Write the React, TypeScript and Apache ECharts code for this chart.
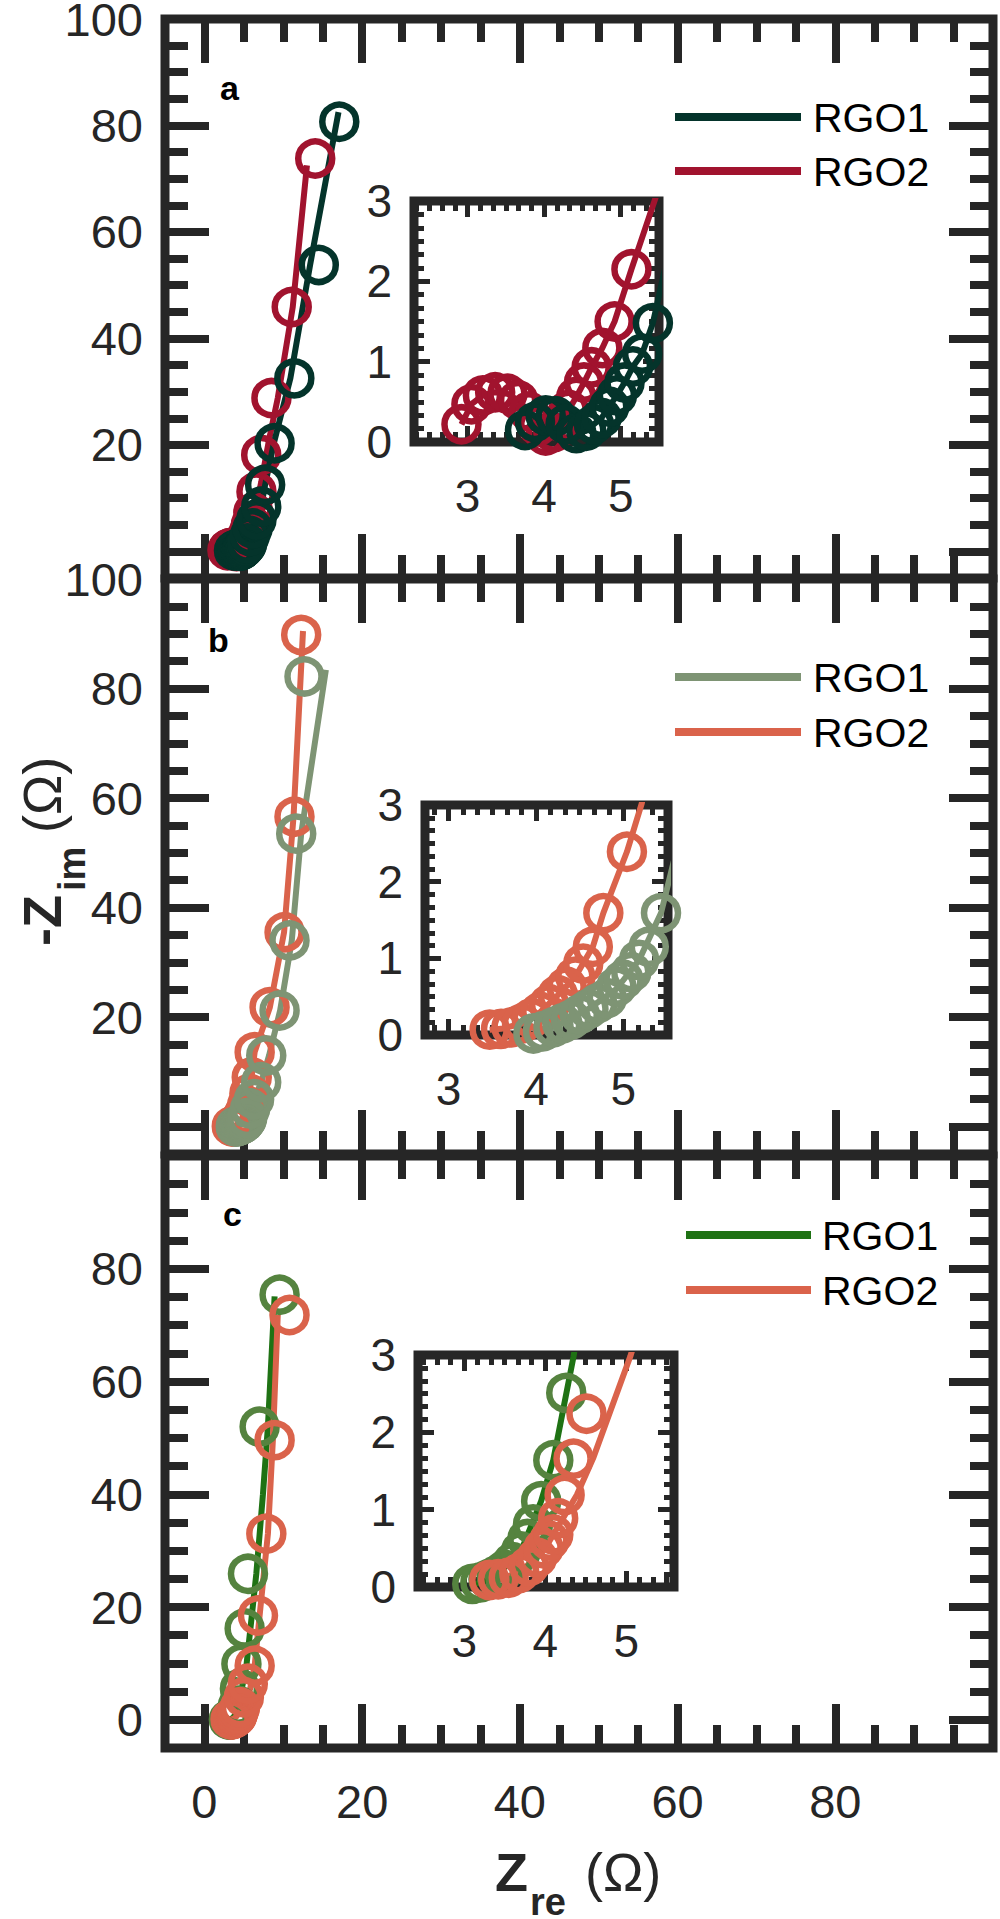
import React, { useEffect, useRef } from "react";
import * as echarts from "echarts";

// ---------------- data ----------------
const panelNames = ["a", "b", "c"];
const seriesNames = ["RGO1", "RGO2"];
const mainXTickLabels = [0, 20, 40, 60, 80];
const mainYTickLabelsA = [20, 40, 60, 80, 100];
const mainYTickLabelsB = [20, 40, 60, 80, 100];
const mainYTickLabelsC = [0, 20, 40, 60, 80];
const insetXTickLabels = [3, 4, 5];
const insetYTickLabels = [0, 1, 2, 3];

// panel a
const aRGO1Points = [
  [3.75, 0.15], [3.88, 0.25], [4.02, 0.33], [4.15, 0.32], [4.28, 0.22], [4.42, 0.11],
  [4.55, 0.14], [4.65, 0.22], [4.75, 0.3], [4.85, 0.44], [4.95, 0.58], [5.05, 0.74],
  [5.16, 0.94], [5.28, 1.1], [5.42, 1.48], [5.75, 2.9], [6.1, 4.3], [6.6, 6.0],
  [7.2, 8.4], [7.7, 12.5], [8.9, 20.3], [11.4, 32.5], [14.5, 53.8], [17.1, 80.7],
];
const aRGO1Curve = [
  [3.75, 0.15], [3.88, 0.25], [4.02, 0.33], [4.15, 0.32], [4.28, 0.22], [4.42, 0.11],
  [4.55, 0.14], [4.65, 0.22], [4.75, 0.3], [4.85, 0.44], [4.95, 0.58], [5.05, 0.74],
  [5.16, 0.94], [5.28, 1.1], [5.42, 1.48], [5.75, 2.9], [6.1, 4.3], [6.6, 6.0],
  [7.2, 8.4], [7.7, 12.5], [8.8, 20.3], [10.9, 32.5], [13.4, 53.8], [17.0, 82.5],
];
const aRGO2Points = [
  [2.92, 0.22], [3.05, 0.47], [3.2, 0.58], [3.36, 0.62], [3.52, 0.6], [3.66, 0.52],
  [3.8, 0.38], [3.92, 0.2], [4.02, 0.08], [4.12, 0.12], [4.22, 0.25], [4.32, 0.4],
  [4.42, 0.56], [4.52, 0.74], [4.62, 0.93], [4.76, 1.17], [4.92, 1.5], [5.14, 2.15],
  [5.6, 3.45], [5.9, 5.0], [6.2, 7.3], [6.6, 11.2], [7.2, 18.1], [8.5, 28.8],
  [11.07, 45.9], [14.05, 73.8],
];
const aRGO2Curve = [
  [2.92, 0.22], [3.05, 0.47], [3.2, 0.58], [3.36, 0.62], [3.52, 0.6], [3.66, 0.52],
  [3.8, 0.38], [3.92, 0.2], [4.02, 0.08], [4.12, 0.12], [4.22, 0.25], [4.32, 0.4],
  [4.42, 0.56], [4.52, 0.74], [4.62, 0.93], [4.76, 1.17], [4.92, 1.5], [5.14, 2.15],
  [5.6, 3.45], [6.0, 5.2], [6.5, 8.0], [7.2, 13.0], [8.2, 21.0], [9.3, 28.8],
  [11.2, 45.9], [13.0, 72.5],
];

// panel b
const bRGO1Points = [
  [3.97, 0.02], [4.08, 0.05], [4.2, 0.1], [4.3, 0.15], [4.4, 0.2], [4.5, 0.27],
  [4.6, 0.34], [4.7, 0.41], [4.81, 0.48], [4.92, 0.63], [5.0, 0.72], [5.09, 0.82],
  [5.18, 0.98], [5.29, 1.15], [5.43, 1.59], [5.8, 3.3], [6.3, 5.0], [7.2, 8.1],
  [7.84, 13.0], [9.53, 21.2], [10.79, 34.0], [11.64, 53.5], [12.69, 82.2],
];
const bRGO1Curve = [
  [3.97, 0.02], [4.3, 0.15], [4.6, 0.34], [4.92, 0.6], [5.18, 0.98], [5.43, 1.59],
  [5.8, 3.3], [6.3, 5.0], [7.2, 8.1], [8.2, 13.0], [9.6, 21.2], [11.08, 34.0],
  [12.27, 53.5], [15.4, 83.4],
];
const bRGO2Points = [
  [3.47, 0.07], [3.6, 0.08], [3.72, 0.1], [3.84, 0.15], [3.95, 0.22], [4.05, 0.3],
  [4.15, 0.4], [4.25, 0.52], [4.35, 0.63], [4.45, 0.76], [4.54, 0.93], [4.65, 1.15],
  [4.77, 1.59], [5.04, 2.39], [5.4, 3.8], [5.7, 6.0], [6.0, 9.0], [6.37, 13.6],
  [8.26, 21.8], [10.16, 35.5], [11.42, 56.6], [12.27, 89.8],
];
const bRGO2Curve = [
  [3.47, 0.07], [3.6, 0.08], [3.84, 0.15], [4.05, 0.3], [4.25, 0.52], [4.45, 0.76],
  [4.65, 1.15], [4.77, 1.59], [5.04, 2.39], [5.21, 3.02], [5.7, 6.0], [6.37, 13.6],
  [8.3, 21.8], [10.1, 35.5], [11.3, 56.6], [12.5, 90.5],
];

// panel c
const cRGO1Points = [
  [3.1, 0.04], [3.2, 0.06], [3.3, 0.1], [3.4, 0.15], [3.5, 0.22], [3.6, 0.32],
  [3.7, 0.46], [3.78, 0.62], [3.85, 0.81], [3.95, 1.11], [4.1, 1.64], [4.26, 2.51],
  [4.5, 5.5], [4.69, 9.9], [5.1, 16.2], [5.52, 25.9], [7.0, 52.0], [9.53, 75.4],
];
const cRGO1Curve = [
  [3.1, 0.02], [3.4, 0.15], [3.7, 0.46], [3.95, 1.11], [4.1, 1.64], [4.35, 2.98],
  [5.3, 9.3], [6.58, 25.9], [7.42, 40.0], [8.05, 52.0], [8.9, 75.1],
];
const cRGO2Points = [
  [3.31, 0.09], [3.42, 0.1], [3.55, 0.12], [3.68, 0.18], [3.8, 0.27], [3.9, 0.38],
  [3.98, 0.5], [4.05, 0.6], [4.1, 0.68], [4.16, 0.89], [4.24, 1.19], [4.35, 1.66],
  [4.51, 2.24], [5.0, 4.0], [5.5, 6.4], [6.37, 9.6], [6.79, 18.5], [7.85, 33.0],
  [8.9, 49.6], [10.79, 71.8],
];
const cRGO2Curve = [
  [3.31, 0.05], [3.7, 0.2], [4.0, 0.5], [4.39, 1.19], [4.59, 1.66], [5.05, 2.98],
  [5.8, 5.5], [6.37, 9.6], [7.0, 18.5], [8.05, 33.0], [8.68, 49.6], [9.3, 71.8],
];

const mainXRange = [-5, 100];
const mainYRange = [-5, 100];
const insetYRange = [0, 3];
const insetXRangeA = [2.3, 5.5];
const insetXRangeB = [2.73, 5.51];
const insetXRangeC = [2.43, 5.59];

// ---------------- styles / layout ----------------
const FRAME = "#262626";
const FONT = "'Liberation Sans', Arial, Helvetica, sans-serif";

const markerColors = [
  ["#04342B", "#A1132E"],
  ["#7E9474", "#DA634B"],
  ["#55833F", "#DA634B"],
];
const lineColors = [
  ["#04342B", "#A1132E"],
  ["#7E9474", "#DA634B"],
  ["#1F7214", "#DA634B"],
];

const mainGrids = [
  { left: 165, top: 19, width: 828, height: 559 },
  { left: 165, top: 579, width: 828, height: 575 },
  { left: 165, top: 1156, width: 828, height: 592 },
];
const insetGrids = [
  { left: 414, top: 201, width: 245, height: 241 },
  { left: 425, top: 805, width: 243, height: 230 },
  { left: 418, top: 1355, width: 256, height: 232 },
];
const legendLayout = [
  { x0: 675, x1: 801, tx: 813, ys: [117, 171] },
  { x0: 675, x1: 801, tx: 813, ys: [677, 732] },
  { x0: 686, x1: 811, tx: 822, ys: [1235, 1290] },
];
const letterLayout = [
  { x: 220, y: 88 },
  { x: 208, y: 640 },
  { x: 223, y: 1214 },
];

function textStyle(text: string, font: string, fill: string, align = "left") {
  return {
    text,
    font,
    fill,
    align,
    verticalAlign: "middle",
    textAlign: align,
    textVerticalAlign: "middle",
  };
}

function sixths(range: number[]) {
  const out: number[] = [];
  for (let k = Math.ceil(range[0] * 6 - 1e-9); k <= Math.floor(range[1] * 6 + 1e-9); k++) {
    out.push(k / 6);
  }
  return out;
}

function mainXAxes(gi: number, showLabels: boolean) {
  const base: any = {
    gridIndex: gi,
    type: "value",
    min: mainXRange[0],
    max: mainXRange[1],
    axisLine: { show: false, onZero: false },
    splitLine: { show: false },
  };
  const major = {
    show: true,
    inside: true,
    length: 44,
    lineStyle: { color: FRAME, width: 8 },
  };
  const minor = { ...major, length: 23 };
  return [
    {
      ...base,
      position: "bottom",
      splitNumber: 5,
      axisTick: major,
      axisLabel: {
        show: showLabels,
        margin: 30,
        fontSize: 47,
        fontFamily: FONT,
        color: FRAME,
        formatter: (v: number) => (mainXTickLabels.includes(v) ? String(v) : ""),
      },
    },
    { ...base, position: "top", splitNumber: 5, axisTick: major, axisLabel: { show: false } },
    { ...base, position: "bottom", interval: 5, axisTick: minor, axisLabel: { show: false } },
    { ...base, position: "top", interval: 5, axisTick: minor, axisLabel: { show: false } },
  ];
}

function mainYAxes(gi: number, labels: number[]) {
  const base: any = {
    gridIndex: gi,
    type: "value",
    min: mainYRange[0],
    max: mainYRange[1],
    axisLine: { show: false, onZero: false },
    splitLine: { show: false },
  };
  const major = {
    show: true,
    inside: true,
    length: 44,
    lineStyle: { color: FRAME, width: 8 },
  };
  const minor = { ...major, length: 23 };
  return [
    {
      ...base,
      position: "left",
      splitNumber: 5,
      axisTick: major,
      axisLabel: {
        show: true,
        margin: 22,
        fontSize: 47,
        fontFamily: FONT,
        color: FRAME,
        formatter: (v: number) => (labels.includes(v) ? String(v) : ""),
      },
    },
    { ...base, position: "right", splitNumber: 5, axisTick: major, axisLabel: { show: false } },
    { ...base, position: "left", interval: 5, axisTick: minor, axisLabel: { show: false } },
    { ...base, position: "right", interval: 5, axisTick: minor, axisLabel: { show: false } },
  ];
}

function insetXAxes(gi: number, range: number[]) {
  const base: any = {
    gridIndex: gi,
    type: "value",
    min: range[0],
    max: range[1],
    axisLine: { show: false, onZero: false },
    splitLine: { show: false },
  };
  const major = {
    show: true,
    inside: true,
    length: 16,
    customValues: insetXTickLabels,
    lineStyle: { color: FRAME, width: 5 },
  };
  const minor = { ...major, length: 10, customValues: sixths(range) };
  return [
    {
      ...base,
      position: "bottom",
      splitNumber: 3,
      axisTick: major,
      axisLabel: {
        show: true,
        margin: 31,
        fontSize: 46,
        fontFamily: FONT,
        color: FRAME,
        customValues: insetXTickLabels,
        formatter: (v: number) => (insetXTickLabels.includes(v) ? String(v) : ""),
      },
    },
    { ...base, position: "top", splitNumber: 3, axisTick: major, axisLabel: { show: false } },
    { ...base, position: "bottom", splitNumber: 3, axisTick: minor, axisLabel: { show: false } },
    { ...base, position: "top", splitNumber: 3, axisTick: minor, axisLabel: { show: false } },
  ];
}

function insetYAxes(gi: number) {
  const base: any = {
    gridIndex: gi,
    type: "value",
    min: insetYRange[0],
    max: insetYRange[1],
    interval: 1,
    axisLine: { show: false, onZero: false },
    splitLine: { show: false },
    axisTick: { show: true, inside: true, length: 16, lineStyle: { color: FRAME, width: 5 } },
    minorTick: { show: true, splitNumber: 6, length: 10, lineStyle: { color: FRAME, width: 5 } },
  };
  return [
    {
      ...base,
      position: "left",
      axisLabel: {
        show: true,
        margin: 22,
        fontSize: 46,
        fontFamily: FONT,
        color: FRAME,
        formatter: (v: number) => (insetYTickLabels.includes(v) ? String(v) : ""),
      },
    },
    { ...base, position: "right", axisLabel: { show: false } },
  ];
}

function scatterSeries(data: number[][], color: string, xi: number, yi: number) {
  return {
    type: "scatter",
    data,
    xAxisIndex: xi,
    yAxisIndex: yi,
    symbol: "circle",
    symbolSize: 34,
    itemStyle: { color: "rgba(0,0,0,0)", borderColor: color, borderWidth: 6.5, opacity: 1 },
    silent: true,
    clip: true,
    emphasis: { disabled: true },
    z: 3,
  };
}

function lineSeries(data: number[][], color: string, xi: number, yi: number) {
  return {
    type: "line",
    data,
    xAxisIndex: xi,
    yAxisIndex: yi,
    showSymbol: false,
    symbol: "none",
    lineStyle: { color, width: 6, opacity: 1 },
    silent: true,
    clip: true,
    emphasis: { disabled: true },
    z: 3,
  };
}

function buildOption() {
  const grids: any[] = [];
  const xAxes: any[] = [];
  const yAxes: any[] = [];
  const series: any[] = [];
  const graphics: any[] = [];

  const yLabelSets = [mainYTickLabelsA, mainYTickLabelsB, mainYTickLabelsC];
  const insetRanges = [insetXRangeA, insetXRangeB, insetXRangeC];
  const points = [
    [aRGO1Points, aRGO2Points],
    [bRGO1Points, bRGO2Points],
    [cRGO1Points, cRGO2Points],
  ];
  const curves = [
    [aRGO1Curve, aRGO2Curve],
    [bRGO1Curve, bRGO2Curve],
    [cRGO1Curve, cRGO2Curve],
  ];
  const drawOrder = [[1, 0], [1, 0], [0, 1]];

  mainGrids.forEach((g) =>
    grids.push({
      ...g,
      show: true,
      borderWidth: 9,
      borderColor: FRAME,
      backgroundColor: "transparent",
      containLabel: false,
      outerBoundsMode: "none",
    })
  );
  insetGrids.forEach((g) =>
    grids.push({
      ...g,
      show: true,
      borderWidth: 9,
      borderColor: FRAME,
      backgroundColor: "#ffffff",
      containLabel: false,
      outerBoundsMode: "none",
    })
  );

  for (let p = 0; p < 3; p++) xAxes.push(...mainXAxes(p, p === 2));
  for (let p = 0; p < 3; p++) xAxes.push(...insetXAxes(3 + p, insetRanges[p]));
  for (let p = 0; p < 3; p++) yAxes.push(...mainYAxes(p, yLabelSets[p]));
  for (let p = 0; p < 3; p++) yAxes.push(...insetYAxes(3 + p));

  for (let p = 0; p < 3; p++) {
    const targets = [
      { xi: 4 * p, yi: 4 * p },
      { xi: 12 + 4 * p, yi: 12 + 2 * p },
    ];
    targets.forEach((t) => {
      drawOrder[p].forEach((s) => {
        series.push(scatterSeries(points[p][s], markerColors[p][s], t.xi, t.yi));
        series.push(lineSeries(curves[p][s], lineColors[p][s], t.xi, t.yi));
      });
    });

    // legend
    const L = legendLayout[p];
    seriesNames.forEach((name, s) => {
      graphics.push({
        type: "line",
        z: 20,
        silent: true,
        shape: { x1: L.x0, y1: L.ys[s], x2: L.x1, y2: L.ys[s] },
        style: { stroke: lineColors[p][s], lineWidth: 8 },
      });
      graphics.push({
        type: "text",
        z: 20,
        silent: true,
        x: L.tx,
        y: L.ys[s] + 1,
        style: textStyle(name, `41px ${FONT}`, "#000000"),
      });
    });

    // panel letter
    graphics.push({
      type: "text",
      z: 20,
      silent: true,
      x: letterLayout[p].x,
      y: letterLayout[p].y,
      style: textStyle(panelNames[p], `bold 34px ${FONT}`, "#000000"),
    });
  }

  // x axis title: Z_re (Ω)
  graphics.push({
    type: "text", z: 20, silent: true, x: 495, y: 1872,
    style: textStyle("Z", `bold 54px ${FONT}`, FRAME),
  });
  graphics.push({
    type: "text", z: 20, silent: true, x: 530, y: 1902,
    style: textStyle("re", `bold 38px ${FONT}`, FRAME),
  });
  graphics.push({
    type: "text", z: 20, silent: true, x: 585, y: 1872,
    style: textStyle("(Ω)", `54px ${FONT}`, FRAME),
  });

  // y axis title: -Z_im (Ω), rotated
  graphics.push({
    type: "group",
    x: 42,
    y: 946,
    rotation: Math.PI / 2,
    z: 20,
    silent: true,
    children: [
      { type: "text", x: 0, y: 0, style: textStyle("-Z", `bold 54px ${FONT}`, FRAME) },
      { type: "text", x: 55, y: 30, style: textStyle("im", `bold 38px ${FONT}`, FRAME) },
      { type: "text", x: 113, y: 0, style: textStyle("(Ω)", `54px ${FONT}`, FRAME) },
    ],
  });

  return {
    animation: false,
    backgroundColor: "#ffffff",
    grid: grids,
    xAxis: xAxes,
    yAxis: yAxes,
    series,
    graphic: { elements: graphics },
  };
}

export default function App() {
  const ref = useRef<HTMLDivElement>(null);
  useEffect(() => {
    document.body.style.margin = "0";
    document.body.style.overflow = "hidden";
    if (!ref.current) return;
    const chart = echarts.init(ref.current, undefined, { renderer: "svg" });
    chart.setOption(buildOption() as any);
    return () => chart.dispose();
  }, []);
  return <div ref={ref} style={{ width: 1000, height: 1919 }} />;
}
